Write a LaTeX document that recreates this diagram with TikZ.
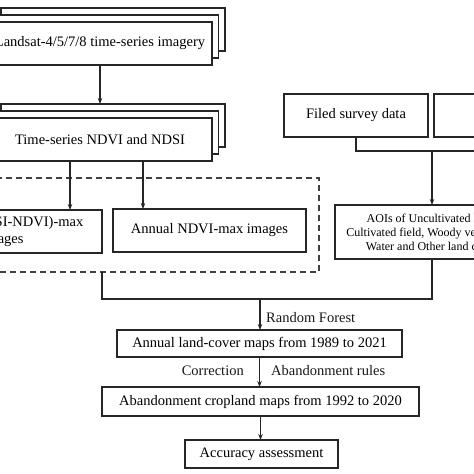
\documentclass[tikz,border=0pt]{standalone}
\usepackage{fontspec}
\setmainfont{Liberation Serif}
\usetikzlibrary{arrows.meta,calc}
\begin{document}
\begin{tikzpicture}[x=1pt,y=-1pt,
  box/.style={draw=black!85, line width=1.2pt, fill=white, inner sep=0pt, outer sep=0pt,
    font=\fontsize{14.5}{17.5}\selectfont, align=center},
  conn/.style={draw=black!85, line width=1.2pt},
  arr/.style={conn, -{Stealth[length=6pt,width=4.5pt]}},
  lbl/.style={font=\fontsize{14.5}{17}\selectfont, inner sep=0pt, text=black!90}]
\useasboundingbox (0,0) rectangle (474,474);
\clip (0,0) rectangle (474,474);
\fill[white] (0,0) rectangle (474,474);

% Landsat stack
\node[box, minimum width=224pt, minimum height=43pt] (l3) at (113,29.5) {};
\node[box, minimum width=224pt, minimum height=43pt] (l2) at (106.5,36.5) {};
\node[box, minimum width=224pt, minimum height=43pt] (l1) at (100,43.5) {Landsat-4/5/7/8 time-series imagery};

% NDVI stack
\node[box, minimum width=224pt, minimum height=43pt] (n3) at (113,125.5) {};
\node[box, minimum width=224pt, minimum height=43pt] (n2) at (106.5,132.5) {};
\node[box, minimum width=224pt, minimum height=43pt] (n1) at (100,139.5) {Time-series NDVI and NDSI};

% dashed group
\node[draw=black!75, line width=1.1pt, dash pattern=on 6pt off 4pt, inner sep=0pt, outer sep=0pt,
  minimum width=339pt, minimum height=94pt] (grp) at (149.5,225) {};
\node[box, minimum width=198pt, minimum height=43pt] (mA) at (3,231.5) {Annual (NDSI-NDVI)-max\\images};
\node[box, minimum width=193pt, minimum height=43pt] (mB) at (209.5,230.5) {Annual NDVI-max images};

% right side
\node[box, minimum width=144pt, minimum height=43pt] (sv) at (356,115.5) {Filed survey data};
\node[box, minimum width=144pt, minimum height=43pt] (ot) at (506,115.5) {};
\node[box, minimum width=194pt, minimum height=54pt, font=\fontsize{12}{14}\selectfont] (aoi) at (432,232)
  {AOIs of Uncultivated land,\\Cultivated field, Woody vegetation,\\Water and Other land cover};

% lower chain
\node[box, minimum width=285pt, minimum height=27pt] (lc) at (259.5,343.5) {Annual land-cover maps from 1989 to 2021};
\node[box, minimum width=317pt, minimum height=29pt] (ab) at (260.5,401.5) {Abandonment cropland maps from 1992 to 2020};
\node[box, minimum width=153pt, minimum height=28pt] (acc) at (261.5,454) {Accuracy assessment};

% connectors
\draw[arr] (l1.south) -- (l1.south |- n3.north);
\coordinate (a1) at (70,0);
\coordinate (a2) at (143,0);
\draw[arr] (n1.south -| a1) -- (a1 |- mA.north);
\draw[arr] (n1.south -| a2) -- (a2 |- mB.north);

\coordinate (j1) at (432,151);
\draw[conn] (sv.south) |- (j1) -| (ot.south);
\draw[arr] (j1) -- (aoi.north);

\coordinate (j2) at (260,299);
\coordinate (g1) at (102,0);
\draw[conn] (aoi.south) |- (j2) -- (j2 -| g1) -- (g1 |- grp.south);
\draw[arr] (j2) -- (j2 |- lc.north);
\node[lbl, anchor=west] (rf) at (266,318) {Random Forest};

\draw[arr] (lc.south) -- (lc.south |- ab.north);
\node[lbl, anchor=east] (cor) at (244,371) {Correction};
\node[lbl, anchor=west] (abr) at (271,371) {Abandonment rules};

\draw[arr] (ab.south) -- (ab.south |- acc.north);
\end{tikzpicture}
\end{document}
